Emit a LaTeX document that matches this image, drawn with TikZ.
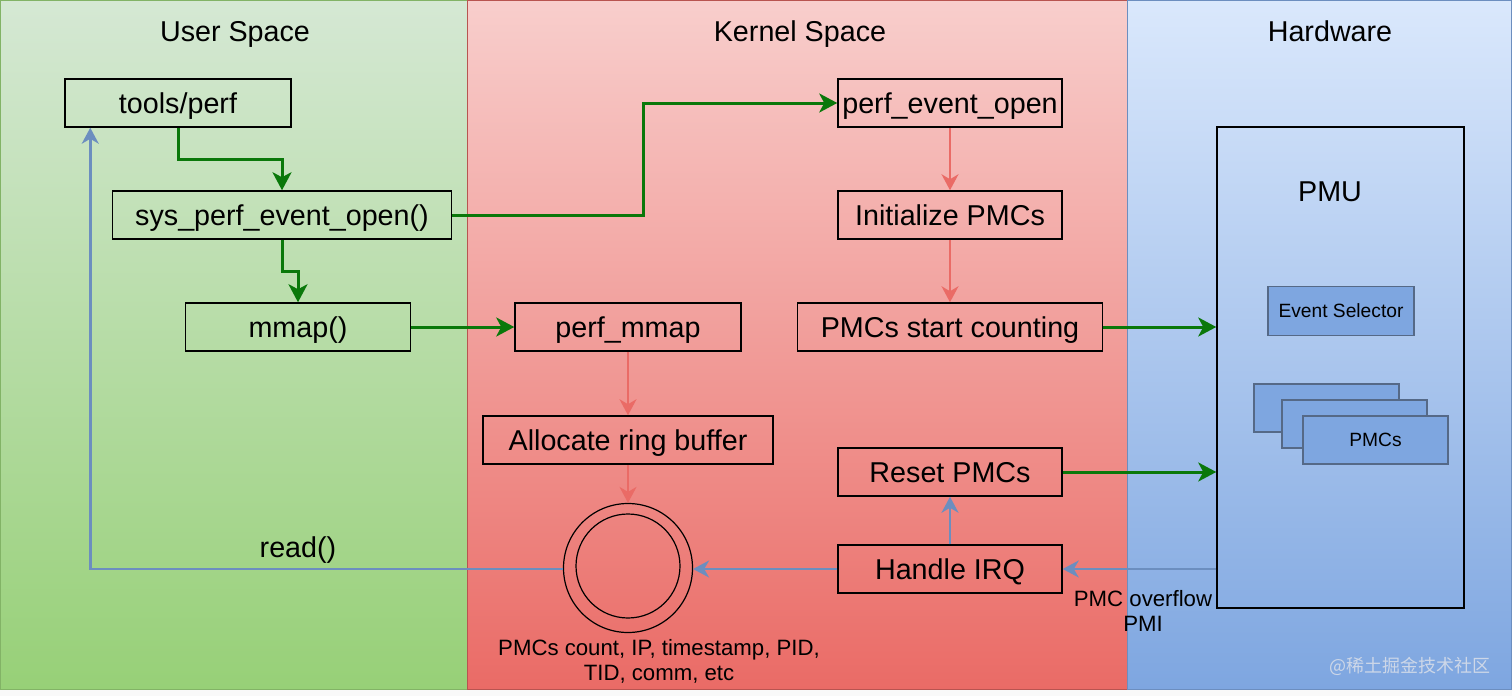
\documentclass[tikz,border=0pt]{standalone}
\usepackage{fontspec}
\setmainfont{Liberation Sans}
\newfontfamily\cjk{Noto Sans CJK SC}
\usetikzlibrary{arrows.meta,calc}
\definecolor{gtop}{HTML}{D5E8D4}
\definecolor{gbot}{HTML}{97D077}
\definecolor{gline}{HTML}{82B366}
\definecolor{rtop}{HTML}{F8CECC}
\definecolor{rbot}{HTML}{EA6B66}
\definecolor{rline}{HTML}{B85450}
\definecolor{btop}{HTML}{DAE8FC}
\definecolor{bbot}{HTML}{7EA6E0}
\definecolor{bline}{HTML}{6C8EBF}
\definecolor{garr}{RGB}{10,120,10}
\definecolor{rarr}{HTML}{EA6B66}
\definecolor{barr}{HTML}{6C8EBF}
\definecolor{inner}{HTML}{7EA6E0}
\definecolor{innerline}{RGB}{85,105,135}
\definecolor{wm}{RGB}{205,215,232}
\tikzset{
  bigfont/.style={font=\fontsize{28.7}{34}\selectfont, text height=23pt, text depth=2pt},
  midfont/.style={font=\fontsize{22.2}{25}\selectfont},
  smallfont/.style={font=\fontsize{19.2}{22}\selectfont, text height=15.4pt, text depth=1.5pt},
  stepbox/.style={draw=black, line width=1.5pt, minimum height=48pt, inner sep=0pt, bigfont},
  hwbox/.style={draw=innerline, fill=inner, line width=1.5pt, inner sep=0pt, smallfont},
  garrow/.style={draw=garr, line width=3pt, -{Stealth[length=18pt,width=19pt,inset=5pt]}},
  rarrow/.style={draw=rarr, line width=2pt, -{Stealth[length=16pt,width=17pt,inset=5pt]}},
  barrow/.style={draw=barr, line width=2.5pt, -{Stealth[length=16pt,width=17pt,inset=5pt]}},
  bline/.style={draw=barr, line width=2.5pt},
}
\begin{document}
\begin{tikzpicture}[x=1pt,y=-1pt]
\useasboundingbox (0,0) rectangle (1512,696);
\fill[white!95!gray] (0,0) rectangle (1512,696);
% panels
\shade[top color=gtop, bottom color=gbot] (0,0) rectangle (467,689);
\draw[gline, line width=1pt] (0.5,0.5) rectangle (467,689);
\shade[top color=rtop, bottom color=rbot] (467,0) rectangle (1127,689);
\draw[rline, line width=1pt] (467,0.5) rectangle (1127,689);
\shade[top color=btop, bottom color=bbot] (1127,0) rectangle (1512,689);
\draw[bline, line width=1pt] (1127,0.5) rectangle (1511.5,689);
% titles
\node[bigfont] (tuser) at (235,31) {User Space};
\node[bigfont] (tkern) at (800,31) {Kernel Space};
\node[bigfont] (thw) at (1330,31) {Hardware};
% user space
\node[stepbox, minimum width=226pt] (tools) at (178,103) {tools/perf};
\node[stepbox, minimum width=339pt] (sys) at (282,215) {sys\_perf\_event\_open()};
\node[stepbox, minimum width=225pt] (mmap) at (298,327) {mmap()};
% kernel space
\node[stepbox, minimum width=224pt] (peo) at (950,103) {perf\_event\_open};
\node[stepbox, minimum width=224pt] (init) at (950,215) {Initialize PMCs};
\node[stepbox, minimum width=305pt] (start) at (950,327) {PMCs start counting};
\node[stepbox, minimum width=226pt] (pmmap) at (628,327) {perf\_mmap};
\node[stepbox, minimum width=290pt] (alloc) at (628,440) {Allocate ring buffer};
\node[stepbox, minimum width=224pt] (reset) at (950,472) {Reset PMCs};
\node[stepbox, minimum width=224pt] (irq) at (950,569) {Handle IRQ};
\node[draw=black, line width=1.2pt, circle, minimum size=129pt, inner sep=0pt] (ring) at (628,568) {};
\node[draw=black, line width=1.2pt, circle, minimum size=104pt, inner sep=0pt] (ringin) at (628,566) {};
\node[midfont, align=center] (ringlbl) at (659,661) {PMCs count, IP, timestamp, PID,\\TID, comm, etc};
% hardware
\node[draw=black, line width=1.5pt, minimum width=247pt, minimum height=481pt, inner sep=0pt] (pmu) at (1340.5,367.5) {};
\node[bigfont] (pmulbl) at (1330,191) {PMU};
\node[hwbox, minimum width=146pt, minimum height=49pt] (evsel) at (1341,311) {Event Selector};
\node[hwbox, minimum width=145pt, minimum height=48pt] (pmcA) at (1326.5,408) {};
\node[hwbox, minimum width=145pt, minimum height=48pt] (pmcB) at (1354.5,424) {};
\node[hwbox, minimum width=145pt, minimum height=48pt] (pmcC) at (1375.5,440) {PMCs};
% green arrows
\draw[garrow] (tools.south) -- ++(0,32) -| (sys.north);
\draw[garrow] (sys.south) -- ++(0,32) -| (mmap.north);
\coordinate (bend) at (643,215);
\draw[garrow] (sys.east) -- (bend) |- (peo.west);
\draw[garrow] (mmap.east) -- (pmmap.west);
\draw[garrow] (start.east) -- (start.east -| pmu.west);
\draw[garrow] (reset.east) -- (reset.east -| pmu.west);
% red arrows
\draw[rarrow] (peo.south) -- (init.north);
\draw[rarrow] (init.south) -- (start.north);
\draw[rarrow] (pmmap.south) -- (alloc.north);
\draw[rarrow] (alloc.south) -- (ring.north);
% blue arrows
\draw[barrow] (irq.east -| pmu.west) -- (irq.east);
\node[midfont, align=center] (ovf) at (1143,611) {PMC overflow\\PMI};
\draw[barrow] (irq.north) -- (reset.south);
\draw[barrow] (irq.west) -- (irq.west -| ring.east);
\coordinate (up) at ($(tools.south west)+(26,0)$);
\draw[barrow] (ring.west |- irq.west) -| (up);
\node[bigfont] (readlbl) at (298,547) {read()};
% watermark
\node[wm, font=\cjk\fontsize{18}{20}\selectfont] (wmk) at (1410,666) {@稀土掘金技术社区};
\end{tikzpicture}
\end{document}
